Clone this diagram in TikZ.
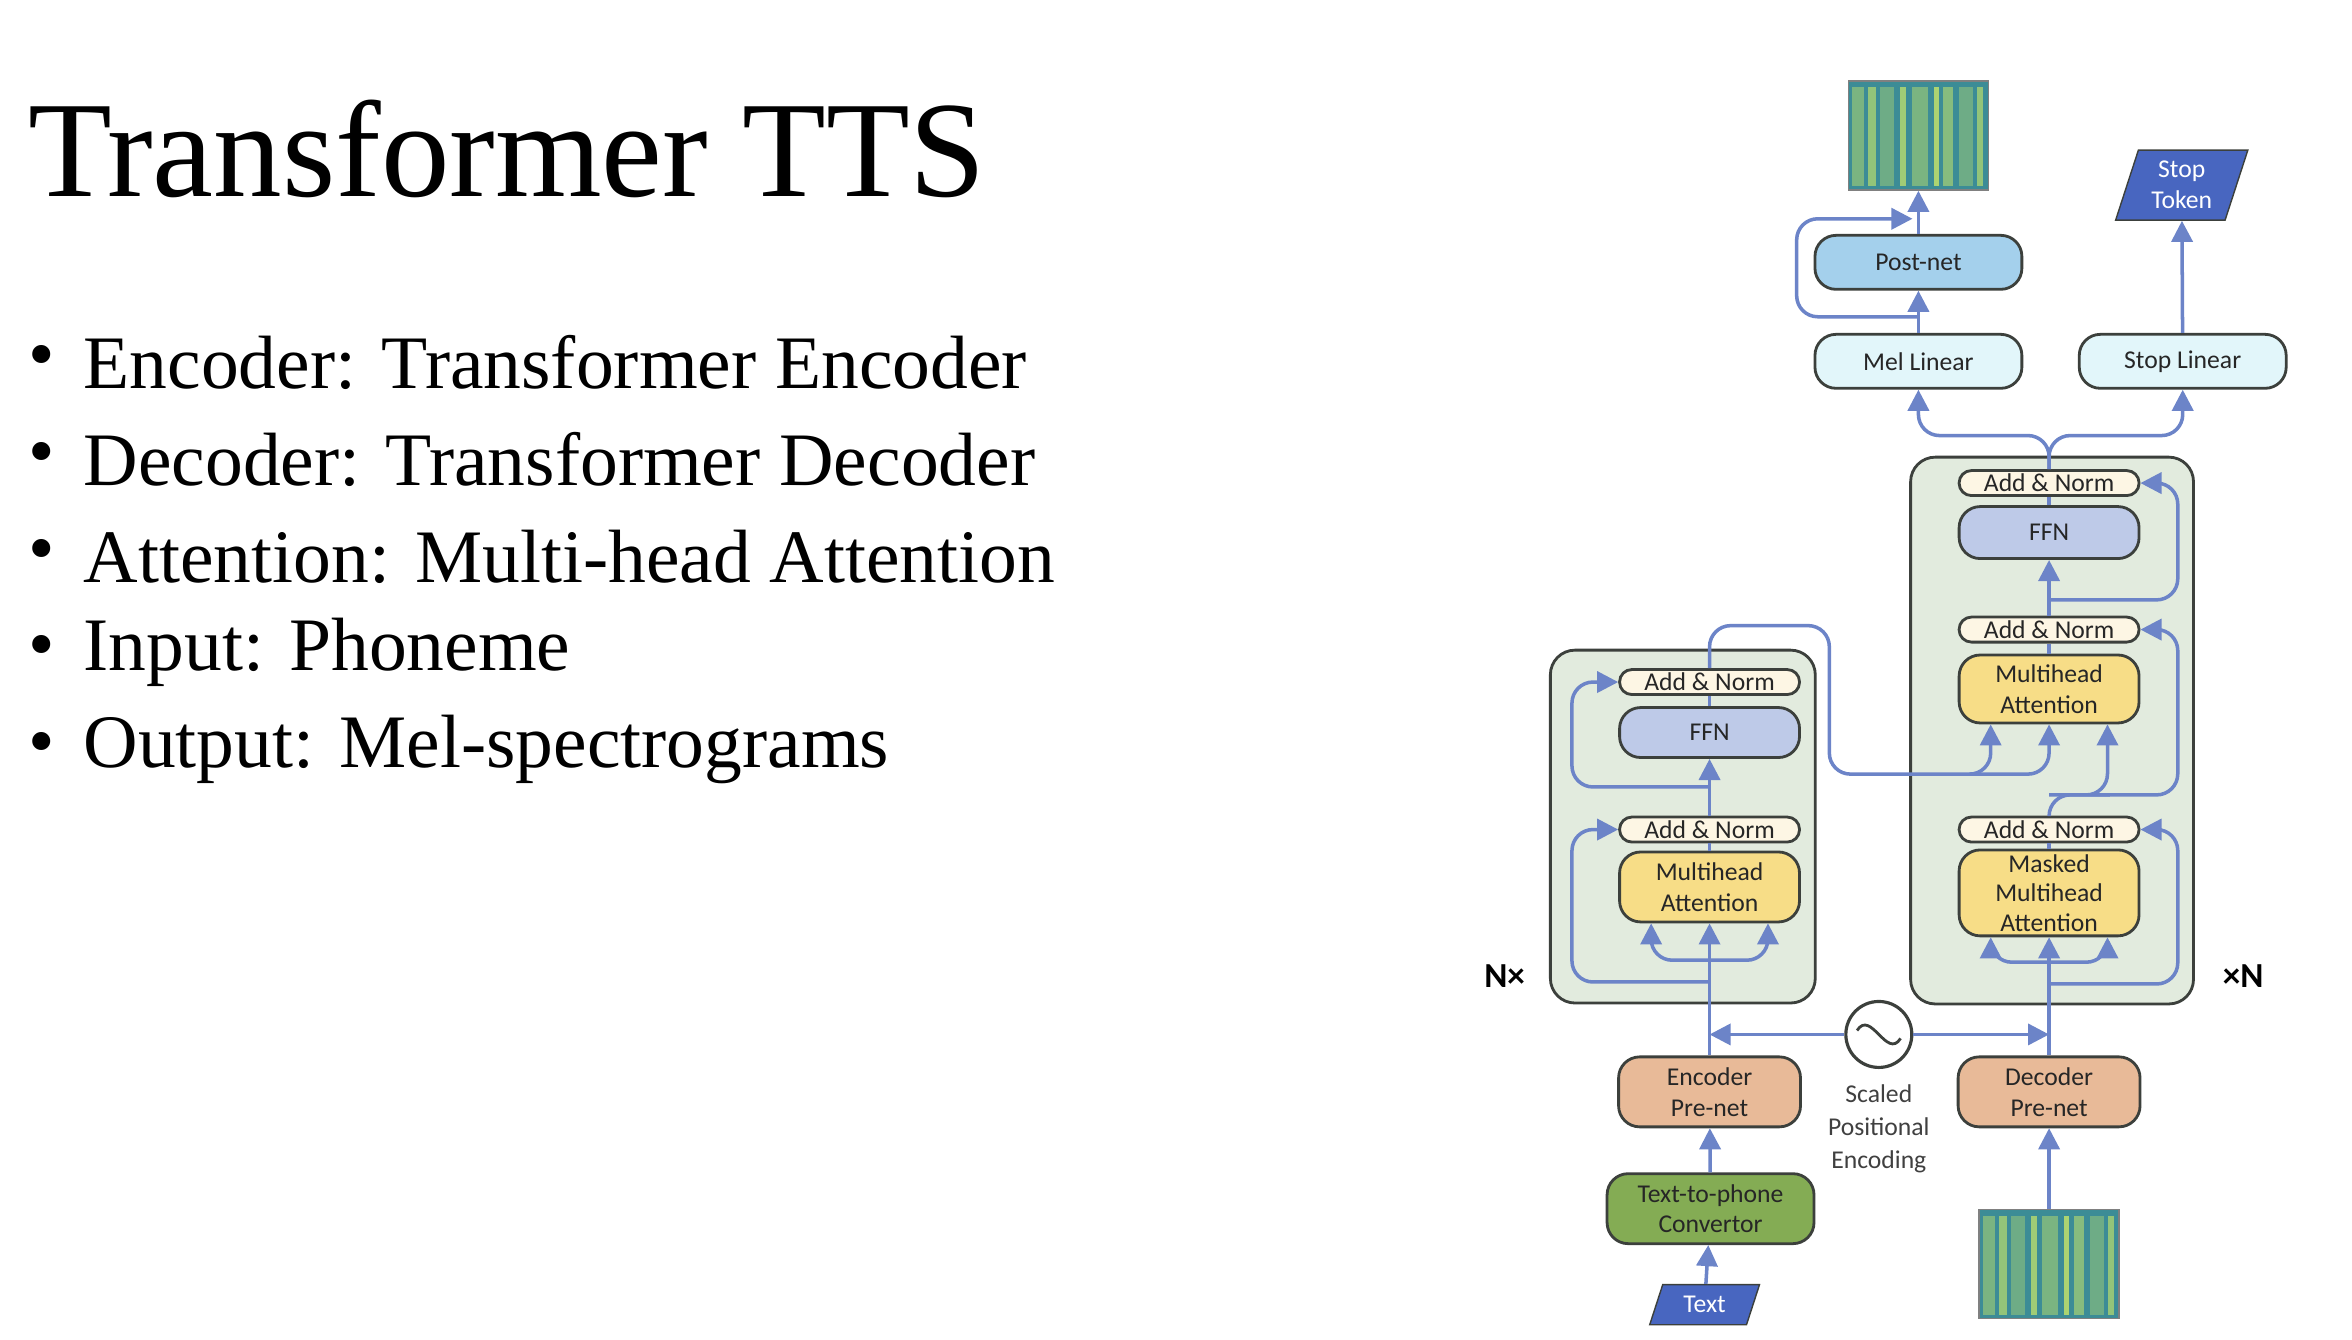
\documentclass[tikz,border=0pt]{standalone}
\usepackage{fontspec}
\setmainfont{Liberation Serif}
\newfontfamily\diagfont{Carlito}
\usetikzlibrary{positioning,calc,arrows.meta,shapes.geometric}
\definecolor{lineblue}{RGB}{108,132,200}
\definecolor{darkline}{RGB}{60,64,60}
\definecolor{stackgreen}{RGB}{226,235,222}
\definecolor{addcream}{RGB}{253,246,228}
\definecolor{ffnblue}{RGB}{190,202,232}
\definecolor{attyellow}{RGB}{247,221,135}
\definecolor{preorange}{RGB}{232,186,152}
\definecolor{phonegreen}{RGB}{132,172,84}
\definecolor{postblue}{RGB}{164,208,236}
\definecolor{linearcyan}{RGB}{226,246,250}
\definecolor{tokenblue}{RGB}{72,102,192}
\definecolor{specteal}{RGB}{60,140,150}
\definecolor{specyellow}{RGB}{185,220,110}
\begin{document}
\begin{tikzpicture}[x=0.0099cm,y=-0.0099cm]
	\tikzset{blk/.style = {draw=darkline, line width=0.8pt, rounded corners=6pt, font=\diagfont\fontsize{7.3}{8.8}\selectfont, align=center, inner sep=1pt, text=black!85}}
	\tikzset{addnorm/.style = {blk, fill=addcream, rounded corners=3.5pt, minimum width=1.8cm, minimum height=0.25cm}}
	\tikzset{stack/.style = {draw=darkline, line width=0.8pt, fill=stackgreen, rounded corners=7pt}}
	\tikzset{ln/.style = {draw=lineblue, line width=1pt, rounded corners=6pt, >={Triangle[width=6pt,length=6pt]}}}
	\tikzset{token/.style = {trapezium, trapezium left angle=72, trapezium right angle=108, draw=darkline, fill=tokenblue, text=white, font=\diagfont\fontsize{7.3}{8.8}\selectfont, align=center, inner sep=1pt}}
	\tikzset{spec/.style = {draw=black!50, fill=specteal, minimum width=1.4cm, minimum height=1.09cm,
		path picture={\foreach \x/\w/\o in {4/12/0.5,20/8/0.7,32/14/0.4,52/6/0.8,64/16/0.5,86/5/0.9,96/10/0.6,112/14/0.4,130/6/0.7}{\fill[specyellow,opacity=\o] ($(path picture bounding box.north west)+(\x,6)$) rectangle +(\w,100);}}}}
	\useasboundingbox (0,0) rectangle (2376,1353);
	\fill[white] (0,0) rectangle (2376,1353);
	% slide text
	\node[anchor=west, font=\fontsize{39}{44}\selectfont] (title) at (16,150) {Transformer TTS};
	\foreach \y/\t in {366/{Encoder: Transformer Encoder}, 464/{Decoder: Transformer Decoder}, 562/{Attention: Multi-head Attention}, 659/{Input: Phoneme}, 757/{Output: Mel-spectrograms}}{
		\node[anchor=west, font=\fontsize{21.5}{26}\selectfont] at (16,\y) {\textbullet};
		\node[anchor=west, font=\fontsize{21.5}{26}\selectfont] at (72,\y) {\t};
	}
	% stacks
	\node[stack, minimum width=2.65cm, minimum height=3.53cm] (enc) at (1700,835) {};
	\node[stack, minimum width=2.83cm, minimum height=5.47cm] (dec) at (2073,738) {};
	\node[font=\diagfont\bfseries\fontsize{10}{12}\selectfont] (nl) at (1520,986) {N×};
	\node[font=\diagfont\bfseries\fontsize{10}{12}\selectfont] (nr) at (2266,986) {×N};
	% encoder
	\node[addnorm] (ean1) at (1727,689) {Add \& Norm};
	\node[blk, fill=ffnblue, minimum width=1.8cm, minimum height=0.5cm] (effn) at (1727,740) {FFN};
	\node[addnorm] (ean2) at (1727,838) {Add \& Norm};
	\node[blk, fill=attyellow, minimum width=1.8cm, minimum height=0.7cm] (emha) at (1727,896) {Multihead\\Attention};
	\node[blk, fill=preorange, minimum width=1.82cm, minimum height=0.7cm] (encpre) at (1727,1103) {Encoder\\Pre-net};
	\node[blk, fill=phonegreen, minimum width=2.07cm, minimum height=0.7cm] (ttp) at (1728,1221) {Text-to-phone\\Convertor};
	\node[token, minimum width=1.1cm, minimum height=0.28cm] (txt) at (1722,1318) {Text};
	% decoder
	\node[addnorm] (dan1) at (2070,488) {Add \& Norm};
	\node[blk, fill=ffnblue, minimum width=1.8cm, minimum height=0.52cm] (dffn) at (2070,538) {FFN};
	\node[addnorm] (dan2) at (2070,636) {Add \& Norm};
	\node[blk, fill=attyellow, minimum width=1.8cm, minimum height=0.68cm] (dmha) at (2070,696) {Multihead\\Attention};
	\node[addnorm] (dan3) at (2070,838) {Add \& Norm};
	\node[blk, fill=attyellow, minimum width=1.8cm, minimum height=0.86cm, font=\diagfont\fontsize{7.3}{8.4}\selectfont] (dmmha) at (2070,902) {Masked\\Multihead\\Attention};
	\node[blk, fill=preorange, minimum width=1.82cm, minimum height=0.7cm] (decpre) at (2070,1103) {Decoder\\Pre-net};
	\node[spec] (decspec) at (2070,1277) {};
	% outputs
	\node[blk, fill=linearcyan, minimum width=2.07cm, minimum height=0.54cm] (mel) at (1938,365) {Mel Linear};
	\node[blk, fill=linearcyan, minimum width=2.07cm, minimum height=0.54cm] (stopl) at (2205,365) {Stop Linear};
	\node[blk, fill=postblue, minimum width=2.07cm, minimum height=0.54cm] (post) at (1938,265) {Post-net};
	\node[spec] (melspec) at (1938,137) {};
	\node[token, minimum width=1.05cm, minimum height=0.7cm] (stoptok) at (2204,187) {Stop\\Token};
	% positional encoding
	\node[circle, draw=darkline, line width=0.9pt, fill=white, minimum size=0.66cm, inner sep=0pt] (pe) at (1898,1045) {};
	\draw[darkline, line width=0.8pt] ($(pe.center)+(-22,-4)$) .. controls ($(pe.center)+(-8,-26)$) and ($(pe.center)+(8,26)$) .. ($(pe.center)+(22,4)$);
	\node[font=\diagfont\fontsize{7.3}{9.4}\selectfont, align=center, text=black!75, below=1pt of pe] (petxt) {Scaled\\Positional\\Encoding};
	\coordinate (ej) at (1727,1045);
	\coordinate (dj) at (2070,1045);
	% encoder flow
	\draw[ln,->] (txt) -- (ttp);
	\draw[ln,->] (ttp) -- (encpre);
	\draw[ln,->] (encpre) -- (emha);
	\draw[ln,->] (1727,970) -| ($(emha.south)+(-59,0)$);
	\draw[ln,->] (1727,970) -| ($(emha.south)+(59,0)$);
	\draw[ln,->] (1727,992) -| (1588,838) -- (ean2.west);
	\draw[ln] (emha) -- (ean2);
	\draw[ln,->] (ean2) -- (effn);
	\draw[ln,->] (1727,795) -| (1588,689) -- (ean1.west);
	\draw[ln] (effn) -- (ean1);
	\draw[ln,->] (pe.west) -- (ej);
	\draw[ln,->] (pe.east) -- (dj);
	% encoder to decoder
	\draw[ln,->] (ean1.north) |- (1848,632) |- (2070,782) -- (dmha.south);
	\draw[ln,->] (1990,782) -| ($(dmha.south)+(-59,0)$);
	% decoder flow
	\draw[ln,->] (decspec) -- (decpre);
	\draw[ln,->] (decpre) -- (dmmha);
	\draw[ln,->] (2070,972) -| ($(dmmha.south)+(-59,0)$);
	\draw[ln,->] (2070,972) -| ($(dmmha.south)+(59,0)$);
	\draw[ln,->] (2070,994) -| (2200,838) -- (dan3.east);
	\draw[ln] (dmmha) -- (dan3);
	\draw[ln,->] (dan3.north) |- (2110,803) -| ($(dmha.south)+(59,0)$);
	\draw[ln,->] (2070,803) -| (2200,636) -- (dan2.east);
	\draw[ln] (dmha) -- (dan2);
	\draw[ln,->] (dan2) -- (dffn);
	\draw[ln,->] (2070,606) -| (2200,488) -- (dan1.east);
	\draw[ln] (dffn) -- (dan1);
	\draw[ln,->] (dan1.north) |- (1990,440) -| (mel.south);
	\draw[ln,->] (dan1.north) |- (2150,440) -| (stopl.south);
	% outputs flow
	\draw[ln,->] (mel) -- (post);
	\draw[ln,->] (1938,320) -| (1815,221) -- (1932,221);
	\draw[ln,->] (post) -- (melspec);
	\draw[ln,->] (stopl) -- (stoptok);
\end{tikzpicture}
\end{document}
